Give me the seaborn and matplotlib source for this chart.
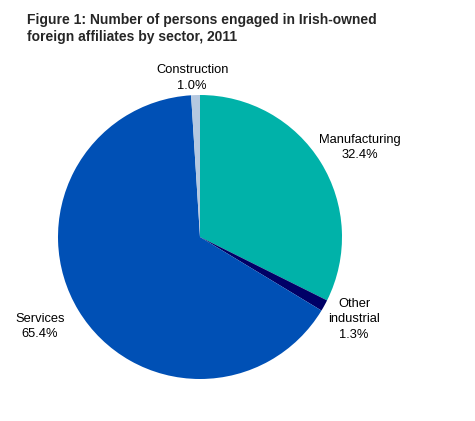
import numpy as np
import seaborn as sns
import matplotlib.pyplot as plt

sectors = ["Manufacturing", "Other\nindustrial", "Services", "Construction"]
shares = [32.4, 1.3, 65.4, 1.0]
colours = ["#00B2A9", "#000066", "#0050B5", "#B4C8E0"]

sns.set_theme(style="white")
plt.rcParams['font.family'] = ['Liberation Sans', 'DejaVu Sans']

fig = plt.figure(figsize=(4.75, 4.21), dpi=100)
# pie centre ~ (200, 237) px, radius ~142 px
ax = fig.add_axes([(200 - 142) / 475, (421 - 237 - 142) / 421, 284 / 475, 284 / 421])

labels = [f"{s}\n{v:.1f}%" for s, v in zip(sectors, shares)]
wedges, texts = ax.pie(shares, colors=sns.color_palette(colours), startangle=90,
                       counterclock=False, radius=1.0, labels=labels,
                       labeldistance=1.27,
                       textprops={'fontsize': 9.3, 'color': 'black',
                                  'ha': 'center', 'va': 'center',
                                  'linespacing': 1.4},
                       wedgeprops={'linewidth': 0})

# nudge labels (distance from centre, angle offset in degrees)
nudges = [(1.29, -2.5), (1.23, 0.8), (1.29, -2.0), (1.12, 1.0)]
for t, (dist, dang) in zip(texts, nudges):
    x, y = t.get_position()
    ang = np.arctan2(y, x) + np.deg2rad(dang)
    t.set_position((np.cos(ang) * dist, np.sin(ang) * dist))
    t.set_horizontalalignment('center')

ax.set_xlim(-1, 1)
ax.set_ylim(-1, 1)
ax.set_aspect('equal')

fig.text(27 / 475, 1 - 13 / 421,
         "Figure 1: Number of persons engaged in Irish-owned\nforeign affiliates by sector, 2011",
         fontsize=10, fontweight='bold', ha='left', va='top', linespacing=1.3)

fig.savefig("out.png", dpi=100)
